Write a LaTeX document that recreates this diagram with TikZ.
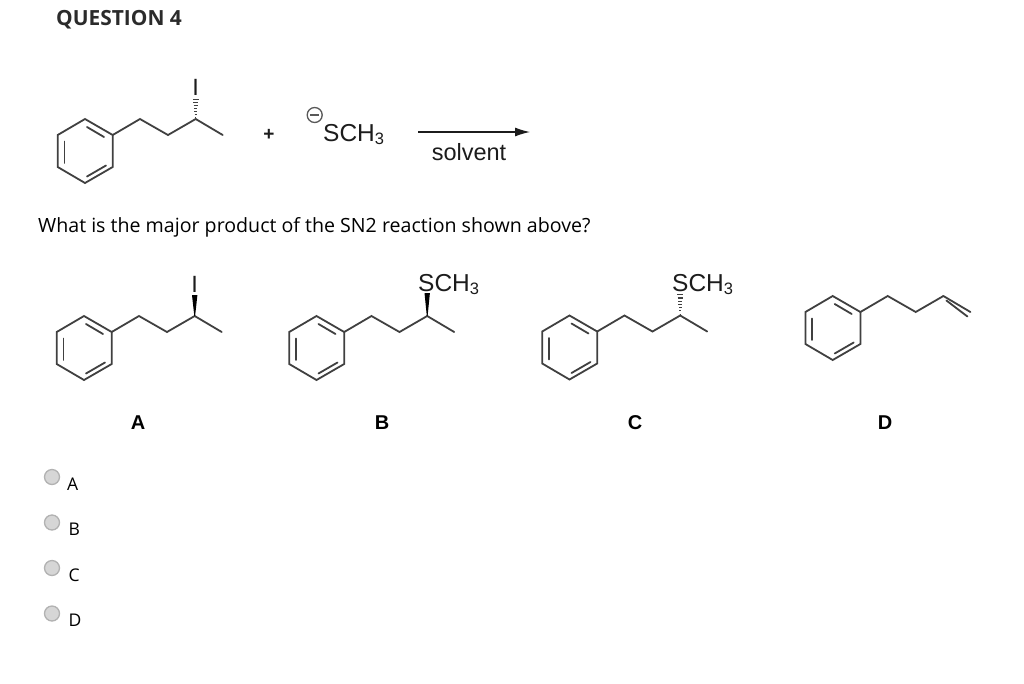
\documentclass[tikz,border=0pt]{standalone}
\usepackage{fontspec}
\setmainfont{Liberation Sans}
\newfontfamily\uifont{Open Sans}
\definecolor{bondc}{HTML}{404040}
\definecolor{inkc}{HTML}{1C1C1C}
\definecolor{headc}{HTML}{2B2B2B}
\tikzset{
  bond/.style={draw=bondc,line width=1.8pt,line join=miter,line cap=round},
  chem/.style={inner sep=0pt,anchor=base,text=inkc,font=\fontsize{23.5}{26}\selectfont},
  chemgroup/.style={inner sep=0pt,anchor=base west,text=inkc,font=\fontsize{24.5}{27}\selectfont},
  optlabel/.style={inner sep=0pt,anchor=base,text=black,font=\fontsize{20}{22}\selectfont\bfseries},
  uitext/.style={inner sep=0pt,anchor=base west,text=black,font=\uifont\fontsize{19.6}{24}\selectfont},
  optext/.style={inner sep=0pt,anchor=base west,text=black,font=\uifont\fontsize{17.5}{20}\selectfont},
  radiobtn/.style={circle,minimum size=15pt,inner sep=0pt,draw=black!30,line width=1.3pt,fill=black!16},
}
% phenyl ring + two CH2 + stereocentre; #1 prefix, #2 dx, #3 dy
\newcommand{\benzchain}[3]{%
  \begin{scope}[shift={(#2,#3)}]
    \coordinate (#1r1) at (85,119);
    \coordinate (#1r2) at (112.7,135);
    \coordinate (#1r3) at (112.7,167);
    \coordinate (#1r4) at (85,183);
    \coordinate (#1r5) at (57.7,167);
    \coordinate (#1r6) at (57.7,135);
    \coordinate (#1c1) at (140,119);
    \coordinate (#1c2) at (168,135);
    \coordinate (#1c3) at (195.7,119);
    \coordinate (#1d1a) at (87,127);
    \coordinate (#1d1b) at (104,137);
    \coordinate (#1d2a) at (64.5,141.5);
    \coordinate (#1d2b) at (64.5,163);
    \coordinate (#1d3a) at (87,176.5);
    \coordinate (#1d3b) at (106,165.5);
    \coordinate (#1c4) at (222.7,135);
    \draw[bond] (#1r1) -- (#1r2) -- (#1r3) -- (#1r4) -- (#1r5) -- (#1r6) -- cycle;
    \draw[bond] (#1d1a) -- (#1d1b);
    \draw[bond] (#1d2a) -- (#1d2b);
    \draw[bond] (#1d3a) -- (#1d3b);
    \draw[bond] (#1r2) -- (#1c1) -- (#1c2) -- (#1c3);
  \end{scope}}
% wedge from stereocentre upward by #2
\newcommand{\solidwedge}[2]{\fill[black] ($(#1)+(-.4,0)$) -- ($(#1)+(-2.7,-#2)$) -- ($(#1)+(2.7,-#2)$) -- ($(#1)+(.4,0)$) -- cycle;}
\newcommand{\hashwedge}[2]{%
  \foreach \t in {0.06,0.2,0.34,0.48,0.62,0.76,0.9}{%
    \draw[bondc,line width=1.1pt] ($(#1)+({-0.4-2.8*\t},{-#2*\t})$) -- ($(#1)+({0.4+2.8*\t},{-#2*\t})$);
  }}
\usetikzlibrary{calc,arrows.meta}
\begin{document}
\begin{tikzpicture}[x=1pt,y=-1pt]
\useasboundingbox[fill=white] (0,0) rectangle (1024,683);

\node[inner sep=0pt,anchor=base west,text=headc,font=\uifont\bfseries\fontsize{20.9}{25}\selectfont] (title) at (56,25.5) {QUESTION 4};

% reactant
\benzchain{m}{0}{0}
\draw[bond] (mc3) -- (mc4);
\hashwedge{mc3}{22}
\node[chem] (mi) at (195.7,95) {I};
\node[inner sep=0pt,anchor=base,font=\bfseries\fontsize{19}{20}\selectfont,text=inkc] (plus) at (269,140.5) {+};
\node[circle,draw=black!65,line width=1.3pt,minimum size=15pt,inner sep=0pt] (charge) at (314.7,115) {};
\draw[black!65,line width=1.3pt] ($(charge)+(-4.5,0)$) -- ($(charge)+(4.5,0)$);
\node[chemgroup] (sch) at (323,141) {SCH\raisebox{-3.5pt}{\fontsize{16.5}{18}\selectfont 3}};
\coordinate (arrS) at (418,132);
\coordinate (arrE) at (530,132);
\draw[draw=inkc,line width=1.2pt,-{Latex[length=15pt,width=9pt]}] (arrS) -- (arrE);
\node[chem] (solv) at (469,160) {solvent};

\node[uitext] (q) at (38,232) {What is the major product of the SN2 reaction shown above?};

% A
\benzchain{a}{-1}{197}
\draw[bond] (ac3) -- (ac4);
\solidwedge{ac3}{21}
\node[chem] (ai) at (194.7,292) {I};
% B
\benzchain{b}{231.5}{197}
\draw[bond] (bc3) -- (bc4);
\solidwedge{bc3}{23}
\node[chemgroup] (bs) at (418,291) {SCH\raisebox{-3.5pt}{\fontsize{16.5}{18}\selectfont 3}};
% C
\benzchain{c}{484.5}{196.5}
\draw[bond] (cc3) -- (cc4);
\hashwedge{cc3}{23}
\node[chemgroup] (cs) at (672,291) {SCH\raisebox{-3.5pt}{\fontsize{16.5}{18}\selectfont 3}};
% D
\benzchain{d}{747.7}{177}
\draw[bond] (dc3) -- (dc4);
\coordinate (dv1) at ($(dc3)+(3,4.5)$);
\coordinate (dv2) at ($(dc4)+(-3,4.5)$);
\draw[bond] (dv1) -- (dv2);

\node[optlabel] (la) at (138,429.5) {A};
\node[optlabel] (lb) at (382,429.5) {B};
\node[optlabel] (lc) at (635,429.5) {C};
\node[optlabel] (ld) at (885,429.5) {D};

\node[radiobtn] (ra) at (52,477) {};
\node[radiobtn] (rb) at (52,522.5) {};
\node[radiobtn] (rc) at (52,568) {};
\node[radiobtn] (rd) at (52,613.5) {};
\node[optext] (ta) at (67,490) {A};
\node[optext] (tb) at (68.5,535) {B};
\node[optext] (tc) at (68.5,581) {C};
\node[optext] (td) at (68.5,626) {D};
\end{tikzpicture}
\end{document}
